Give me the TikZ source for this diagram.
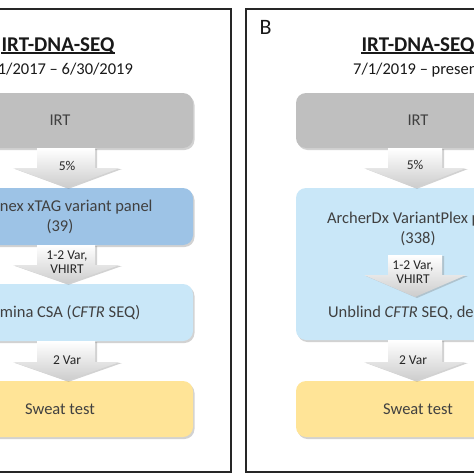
\documentclass[tikz,border=0pt]{standalone}
\usepackage{fontspec}
\setmainfont{Carlito}
\usetikzlibrary{shadows}
\definecolor{irtgray}{HTML}{BFBFBF}
\definecolor{midblue}{HTML}{9DC3E6}
\definecolor{lightblue}{HTML}{C9E7F8}
\definecolor{sweat}{HTML}{FFE497}
\definecolor{txt}{HTML}{404040}
\definecolor{framec}{HTML}{262626}
\tikzset{
  box/.style={rounded corners=10pt, inner sep=0pt, text=txt,
    font=\fontsize{16.5}{20}\selectfont, align=center,
    drop shadow={opacity=0.35, shadow xshift=1.5pt, shadow yshift=-2pt}},
  boxtext/.style={inner sep=0pt, text=txt, font=\fontsize{16.5}{20}\selectfont, align=center},
  panelframe/.style={draw=framec, line width=1.4pt},
  barrow/.style={top color=white, bottom color=black!20,
    drop shadow={opacity=0.35, shadow xshift=2pt, shadow yshift=-1pt}},
  alabel/.style={font=\fontsize{13.5}{14}\selectfont, text=black!85, inner sep=0pt},
  titletext/.style={font=\fontsize{21}{24}\bfseries\selectfont, inner sep=0pt, text=black!90},
  datetext/.style={font=\fontsize{16.5}{19}\selectfont, inner sep=0pt, text=black!90},
}
% #1 shaft left, #2 shaft right, #3 head left, #4 head right, #5 tip x,
% #6 start anchor, #7 head y, #8 end anchor
\newcommand\blockarrow[8]{%
  \path[barrow] (#1,0 |- #6) -- (#2,0 |- #6) -- (#2,#7) -- (#4,#7)
    -- (#5,0 |- #8) -- (#3,#7) -- (#1,#7) -- cycle;}
\begin{document}
\begin{tikzpicture}[x=1pt,y=-1pt]
\useasboundingbox (0,0) rectangle (474,474);
\clip (0,0) rectangle (474,474);
\fill[white] (0,0) rectangle (474,474);

% ---------- panel A ----------
\draw[panelframe] (-112,9) rectangle (231,472);
\node[titletext, anchor=base] (titleA) at (58,51) {IRT-DNA-SEQ};
\draw[line width=1.2pt, black!90] ([yshift=-2pt]titleA.base west) -- ([yshift=-2pt]titleA.base east);
\node[datetext, anchor=base] (dateA) at (58,74) {1/1/2017 – 6/30/2019};

\node[box, fill=irtgray, minimum width=266pt, minimum height=55pt] (irtA) at (60,120.5) {IRT};
\node[box, fill=midblue, minimum width=266pt, minimum height=57pt] (lumA) at (60,216.5) {Luminex xTAG variant panel\\(39)};
\node[box, fill=lightblue, minimum width=266pt, minimum height=57pt] (illA) at (60,312.5) {Illumina CSA (\textit{CFTR} SEQ)};
\node[box, fill=sweat, minimum width=266pt, minimum height=56pt] (swA) at (60,409) {Sweat test};

\blockarrow{37}{95}{13}{120}{66.5}{irtA.south}{168}{lumA.north}
\node[alabel] (a1lab) at (67,166) {5\%};
\blockarrow{37}{95}{13}{120}{66.5}{lumA.south}{265}{illA.north}
\node[alabel, align=center] (a2lab) at (67,262) {1-2 Var,\\VHIRT};
\blockarrow{37}{95}{13}{120}{66.5}{illA.south}{362}{swA.north}
\node[alabel] (a3lab) at (67,360) {2 Var};

% ---------- panel B ----------
\draw[panelframe] (246,9) rectangle (589,472);
\node[anchor=base, inner sep=0pt, font=\fontsize{22}{26}\selectfont, text=black!90] (labB) at (265.5,34) {B};
\node[titletext, anchor=base] (titleB) at (418,51) {IRT-DNA-SEQ};
\draw[line width=1.2pt, black!90] ([yshift=-2pt]titleB.base west) -- ([yshift=-2pt]titleB.base east);
\node[datetext, anchor=base] (dateB) at (418,74) {7/1/2019 – present};

\node[box, fill=irtgray, minimum width=244pt, minimum height=55pt] (irtB) at (418,120.5) {IRT};
\node[box, fill=lightblue, minimum width=244pt, minimum height=152pt] (archB) at (418,264) {};
\node[boxtext] (archtxt) at (418,229) {ArcherDx VariantPlex panel\\(338)};
\coordinate (innerTop) at (415,255);
\coordinate (innerTip) at (415,297);
\node[boxtext] (unblB) at (419,313) {Unblind \textit{CFTR} SEQ, del/dup};
\node[box, fill=sweat, minimum width=244pt, minimum height=56pt] (swB) at (418,409) {Sweat test};

\blockarrow{388}{442}{364}{466}{415}{irtB.south}{168}{archB.north}
\node[alabel] (b1lab) at (415,165) {5\%};
\blockarrow{388}{442}{364}{466}{415}{innerTop}{275}{innerTip}
\node[alabel, align=center] (b2lab) at (413,272) {1-2 Var,\\VHIRT};
\blockarrow{388}{442}{364}{466}{415}{archB.south}{362}{swB.north}
\node[alabel] (b3lab) at (413,360) {2 Var};
\end{tikzpicture}
\end{document}
